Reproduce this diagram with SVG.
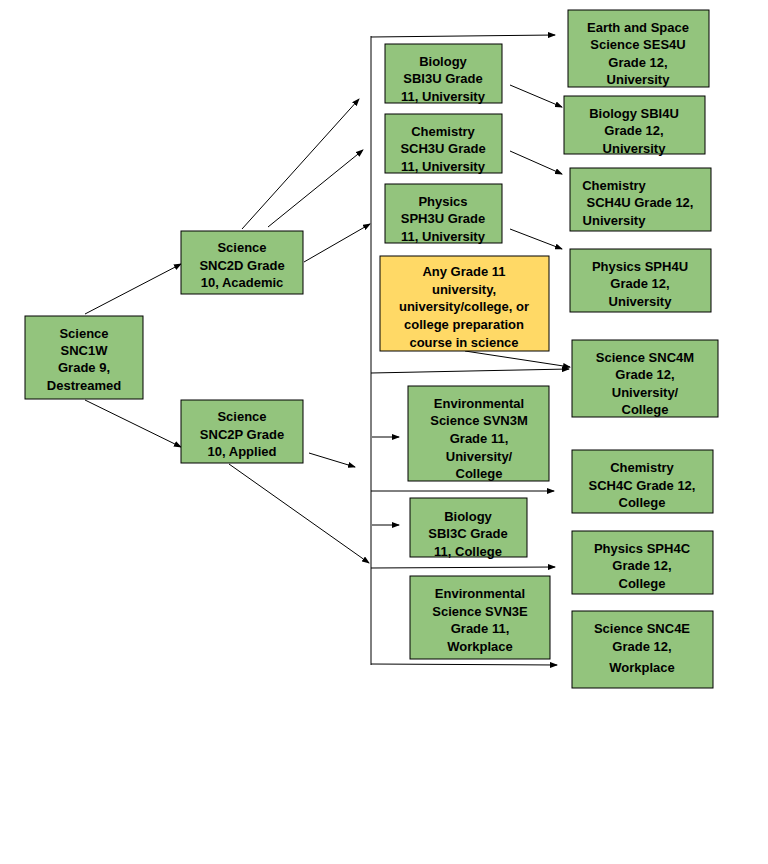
<svg xmlns="http://www.w3.org/2000/svg" width="768" height="864" viewBox="0 0 768 864">
<style>
.n{fill:#93c47d;stroke:#000;stroke-width:1}
.y{fill:#ffd966;stroke:#000;stroke-width:1}
text{font-family:"Liberation Sans",Arial,sans-serif;font-weight:bold;font-size:13px;text-anchor:middle;fill:#000}
.c line{stroke:#000;stroke-width:1}
.c .a{marker-end:url(#ah)}
</style>
<defs><marker id="ah" markerWidth="8" markerHeight="6" refX="7" refY="3" orient="auto" markerUnits="userSpaceOnUse"><path d="M0,0L8,3L0,6z" fill="#000"/></marker></defs>
<rect width="768" height="864" fill="#fff"/>
<g class="c">
<line class="a" x1="85" y1="314" x2="181" y2="264"/>
<line class="a" x1="85" y1="400" x2="181" y2="447"/>
<line class="a" x1="242" y1="229" x2="359" y2="99"/>
<line class="a" x1="268" y1="227" x2="363" y2="150"/>
<line class="a" x1="304" y1="262" x2="370" y2="224"/>
<line class="a" x1="309" y1="453" x2="355" y2="467"/>
<line class="a" x1="229" y1="464" x2="369" y2="563"/>
<line x1="371" y1="36" x2="371" y2="665"/>
<line class="a" x1="371" y1="37" x2="555" y2="35"/>
<line class="a" x1="371" y1="373" x2="569" y2="369"/>
<line class="a" x1="371" y1="491" x2="554" y2="491"/>
<line class="a" x1="371" y1="568" x2="555" y2="567"/>
<line class="a" x1="371" y1="664" x2="557" y2="665"/>
<line class="a" x1="372" y1="437" x2="399" y2="437"/>
<line class="a" x1="372" y1="525" x2="399" y2="525"/>
<line class="a" x1="510" y1="85" x2="562" y2="107"/>
<line class="a" x1="510" y1="151" x2="562" y2="174"/>
<line class="a" x1="510" y1="229" x2="562" y2="249"/>
<line class="a" x1="465" y1="351" x2="570" y2="367"/>
</g>
<g id="snc1w"><rect class="n" x="25" y="316" width="118" height="83"/><text x="84" y="338">Science</text><text x="84" y="355">SNC1W</text><text x="84" y="372">Grade 9,</text><text x="84" y="390">Destreamed</text></g>
<g id="snc2d"><rect class="n" x="181" y="231" width="122" height="63"/><text x="242" y="252">Science</text><text x="242" y="270">SNC2D Grade</text><text x="242" y="287">10, Academic</text></g>
<g id="snc2p"><rect class="n" x="181" y="400" width="122" height="63"/><text x="242" y="421">Science</text><text x="242" y="439">SNC2P Grade</text><text x="242" y="456">10, Applied</text></g>
<g id="sbi3u"><rect class="n" x="385" y="44" width="117" height="59"/><text x="443" y="66">Biology</text><text x="443" y="83">SBI3U Grade</text><text x="443" y="101">11, University</text></g>
<g id="sch3u"><rect class="n" x="385" y="114" width="117" height="59"/><text x="443" y="136">Chemistry</text><text x="443" y="153">SCH3U Grade</text><text x="443" y="171">11, University</text></g>
<g id="sph3u"><rect class="n" x="385" y="184" width="117" height="59"/><text x="443" y="206">Physics</text><text x="443" y="223">SPH3U Grade</text><text x="443" y="241">11, University</text></g>
<g id="any11"><rect class="y" x="380" y="256" width="169" height="95"/><text x="464" y="276">Any Grade 11</text><text x="464" y="294">university,</text><text x="464" y="311">university/college, or</text><text x="464" y="329">college preparation</text><text x="464" y="347">course in science</text></g>
<g id="svn3m"><rect class="n" x="408" y="386" width="141" height="95"/><text x="479" y="408">Environmental</text><text x="479" y="425">Science SVN3M</text><text x="479" y="443">Grade 11,</text><text x="479" y="461">University/</text><text x="479" y="478">College</text></g>
<g id="sbi3c"><rect class="n" x="410" y="498" width="117" height="59"/><text x="468" y="521">Biology</text><text x="468" y="538">SBI3C Grade</text><text x="468" y="556">11, College</text></g>
<g id="svn3e"><rect class="n" x="410" y="576" width="140" height="83"/><text x="480" y="598">Environmental</text><text x="480" y="616">Science SVN3E</text><text x="480" y="633">Grade 11,</text><text x="480" y="651">Workplace</text></g>
<g id="ses4u"><rect class="n" x="568" y="10" width="141" height="77"/><text x="638" y="32">Earth and Space</text><text x="638" y="49">Science SES4U</text><text x="638" y="67">Grade 12,</text><text x="638" y="84">University</text></g>
<g id="sbi4u"><rect class="n" x="564" y="96" width="141" height="58"/><text x="634" y="118">Biology SBI4U</text><text x="634" y="135">Grade 12,</text><text x="634" y="153">University</text></g>
<g id="sch4u"><rect class="n" x="570" y="168" width="141" height="63"/><text x="614" y="190">Chemistry</text><text x="640" y="207">SCH4U Grade 12,</text><text x="614" y="225">University</text></g>
<g id="sph4u"><rect class="n" x="570" y="249" width="141" height="63"/><text x="640" y="271">Physics SPH4U</text><text x="640" y="288">Grade 12,</text><text x="640" y="306">University</text></g>
<g id="snc4m"><rect class="n" x="572" y="340" width="146" height="77"/><text x="645" y="362">Science SNC4M</text><text x="645" y="379">Grade 12,</text><text x="645" y="397">University/</text><text x="645" y="414">College</text></g>
<g id="sch4c"><rect class="n" x="572" y="450" width="141" height="63"/><text x="642" y="472">Chemistry</text><text x="642" y="490">SCH4C Grade 12,</text><text x="642" y="507">College</text></g>
<g id="sph4c"><rect class="n" x="572" y="531" width="141" height="63"/><text x="642" y="553">Physics SPH4C</text><text x="642" y="570">Grade 12,</text><text x="642" y="588">College</text></g>
<g id="snc4e"><rect class="n" x="572" y="611" width="141" height="77"/><text x="642" y="633">Science SNC4E</text><text x="642" y="651">Grade 12,</text><text x="642" y="672">Workplace</text></g>
</svg>
